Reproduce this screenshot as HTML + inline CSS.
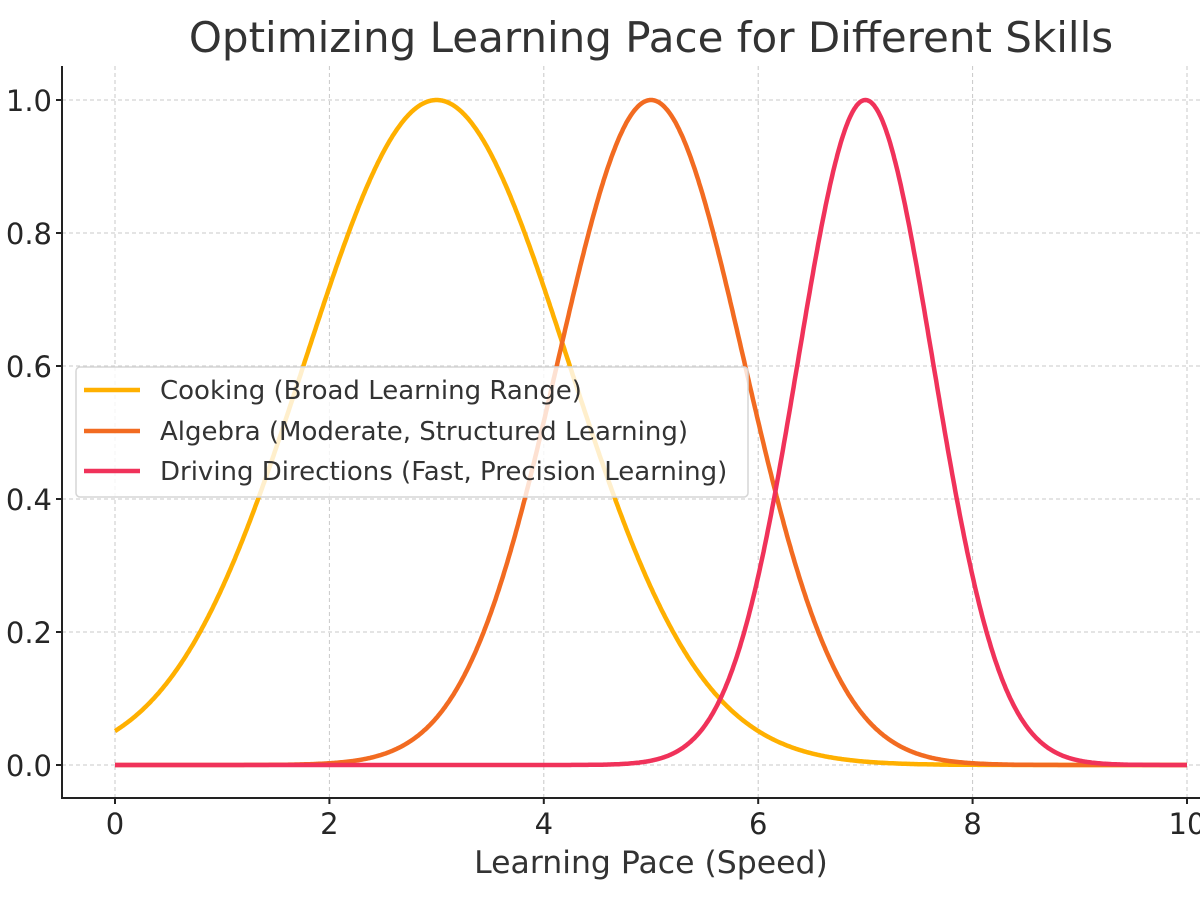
<!DOCTYPE html>
<html><head><meta charset="utf-8"><style>
html,body{margin:0;padding:0;background:#fff;}
svg{display:block;font-family:"DejaVu Sans","Liberation Sans",sans-serif;}
</style></head><body>
<svg id="s" width="1200" height="900" viewBox="0 0 1200 900" xmlns="http://www.w3.org/2000/svg">
<rect width="1200" height="900" fill="#fff"/>
<g stroke="#c8c8c8" stroke-width="1" stroke-dasharray="4,3">
<line x1="115" y1="66" x2="115" y2="798"/><line x1="329.4" y1="66" x2="329.4" y2="798"/>
<line x1="543.8" y1="66" x2="543.8" y2="798"/><line x1="758.2" y1="66" x2="758.2" y2="798"/>
<line x1="972.6" y1="66" x2="972.6" y2="798"/><line x1="1187" y1="66" x2="1187" y2="798"/>
<line x1="62" y1="100" x2="1200" y2="100"/><line x1="62" y1="233" x2="1200" y2="233"/>
<line x1="62" y1="366" x2="1200" y2="366"/><line x1="62" y1="499" x2="1200" y2="499"/>
<line x1="62" y1="632" x2="1200" y2="632"/><line x1="62" y1="765" x2="1200" y2="765"/>
</g>
<g id="curves" fill="none" stroke-width="4.5" stroke-linejoin="round"></g>
<g stroke="#222" stroke-width="2">
<line x1="62" y1="66" x2="62" y2="799"/><line x1="61" y1="798" x2="1200" y2="798"/>
<line x1="56" y1="100" x2="62" y2="100"/><line x1="56" y1="233" x2="62" y2="233"/>
<line x1="56" y1="366" x2="62" y2="366"/><line x1="56" y1="499" x2="62" y2="499"/>
<line x1="56" y1="632" x2="62" y2="632"/><line x1="56" y1="765" x2="62" y2="765"/>
<line x1="115" y1="798" x2="115" y2="804"/><line x1="329.4" y1="798" x2="329.4" y2="804"/>
<line x1="543.8" y1="798" x2="543.8" y2="804"/><line x1="758.2" y1="798" x2="758.2" y2="804"/>
<line x1="972.6" y1="798" x2="972.6" y2="804"/><line x1="1187" y1="798" x2="1187" y2="804"/>
</g>
<g fill="#262626" font-size="29" text-anchor="end">
<text x="52" y="111">1.0</text><text x="52" y="244">0.8</text><text x="52" y="377">0.6</text>
<text x="52" y="510">0.4</text><text x="52" y="643">0.2</text><text x="52" y="776">0.0</text>
</g>
<g fill="#262626" font-size="29" text-anchor="middle">
<text x="115" y="834">0</text><text x="329.4" y="834">2</text><text x="543.8" y="834">4</text>
<text x="758.2" y="834">6</text><text x="972.6" y="834">8</text><text x="1187" y="834">10</text>
</g>
<text x="651" y="873" fill="#333" font-size="31.5" text-anchor="middle">Learning Pace (Speed)</text>
<text x="651" y="52" fill="#333" font-size="42" text-anchor="middle">Optimizing Learning Pace for Different Skills</text>
<rect x="76" y="367" width="672" height="130" rx="4" fill="#fff" fill-opacity="0.8" stroke="#d6d6d6" stroke-width="1.5"/>
<g stroke-width="4.5">
<line x1="84" y1="390" x2="140" y2="390" stroke="#FFB000"/>
<line x1="84" y1="431" x2="140" y2="431" stroke="#F26B21"/>
<line x1="84" y1="471" x2="140" y2="471" stroke="#F0325A"/>
</g>
<g fill="#333" font-size="26">
<text x="160" y="399">Cooking (Broad Learning Range)</text>
<text x="160" y="440">Algebra (Moderate, Structured Learning)</text>
<text x="160" y="480">Driving Directions (Fast, Precision Learning)</text>
</g>
</svg>
<script>
var g=document.getElementById('curves');
var specs=[[3,1.23,'#FFB000'],[5,0.87,'#F26B21'],[7,0.63,'#F0325A']];
specs.forEach(function(s){
 var pts=[];
 for(var i=0;i<=1000;i++){var x=i/100;var y=Math.exp(-(x-s[0])*(x-s[0])/(2*s[1]*s[1]));
  pts.push((115+x*107.2).toFixed(1)+','+(765-y*665).toFixed(1));}
 var p=document.createElementNS('http://www.w3.org/2000/svg','polyline');
 p.setAttribute('points',pts.join(' '));p.setAttribute('stroke',s[2]);g.appendChild(p);
});
</script>
</body></html>
